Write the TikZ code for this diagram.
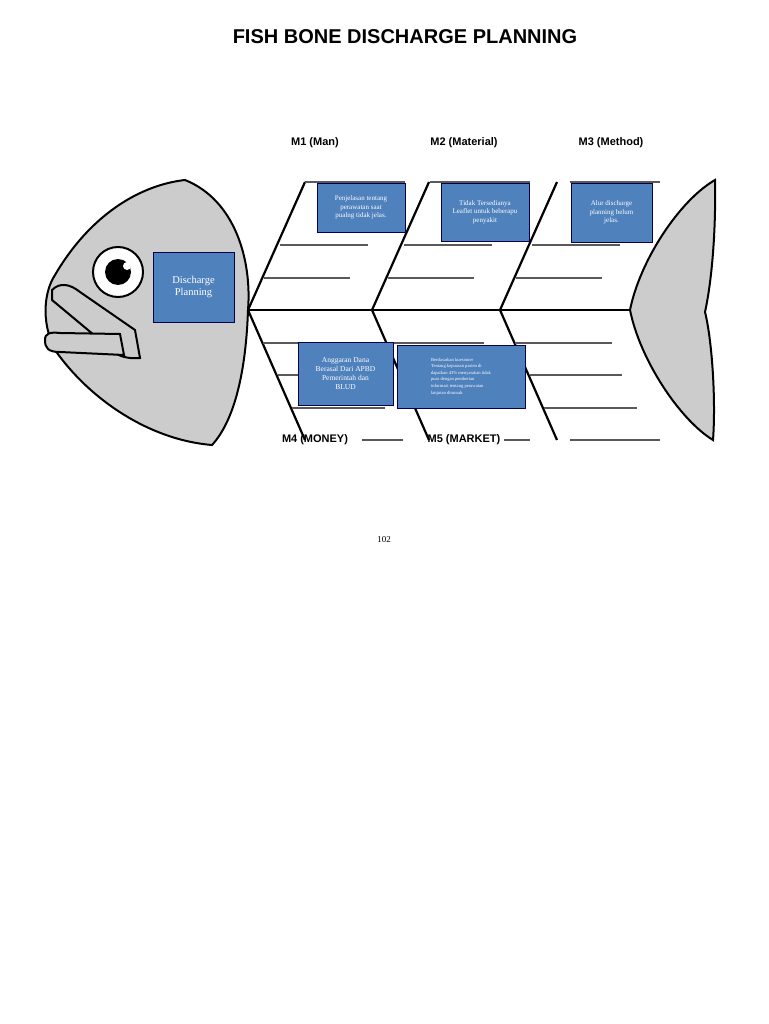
\documentclass[tikz,border=0pt]{standalone}
\usepackage{fontspec}
\setmainfont{Liberation Serif}
\newfontfamily\hv{Liberation Sans}
\begin{document}
\begin{tikzpicture}[x=1pt,y=-1pt,
  bone/.style={line width=2.2pt,black},
  rib/.style={line width=1.3pt,gray!70!black},
  fishpart/.style={draw=black,line width=2pt,fill=gray!40},
  bx/.style={draw=blue!30!black,fill={rgb,255:red,79;green,129;blue,189},text=white,inner sep=1pt,align=center,font=\fontsize{7}{8.5}\selectfont},
  lbl/.style={font=\hv\bfseries\fontsize{11}{13}\selectfont}]
\useasboundingbox (0,0) rectangle (768,1024);
\node[font=\hv\bfseries\fontsize{20}{24}\selectfont] (title) at (405,37) {FISH BONE DISCHARGE PLANNING};
% head
\draw[fishpart] (185,180) .. controls (235,200) and (252,260) .. (248,310) .. controls (246,370) and (235,420) .. (212,445)
 .. controls (150,440) and (90,400) .. (55,350) .. controls (40,320) and (45,290) .. (55,275) .. controls (90,215) and (140,185) .. (185,180) -- cycle;
% lips
\draw[fishpart] (52,290) .. controls (60,282) and (70,284) .. (80,292) -- (135,330) -- (140,358) .. controls (120,360) and (108,350) .. (100,340) -- (52,300) -- cycle;
\draw[fishpart] (45,340) .. controls (45,333) and (50,332) .. (60,333) -- (120,334) -- (124,355) -- (60,352) .. controls (48,352) and (45,348) .. (45,340) -- cycle;
% eye
\draw[line width=2pt,fill=white] (118,272) circle (25);
\fill[black] (118,272) circle (13);
\fill[white] (127,266) circle (4);
% tail
\draw[fishpart] (715,180) .. controls (680,200) and (640,260) .. (630,310) .. controls (640,360) and (680,420) .. (713,440)
 .. controls (716,400) and (712,340) .. (705,312) .. controls (712,280) and (716,230) .. (715,180) -- cycle;
% spine
\coordinate (sp0) at (248,310); \coordinate (spE) at (630,310);
\draw[bone] (sp0) -- (spE);
% bones
\foreach \x/\dx in {248/0,372/124,500/252}{
  \draw[bone] (\x,310) -- ++(57,-128);
  \draw[bone] (\x,310) -- ++(57,130);
}
\draw[rib] (305,182) -- (405,182); \draw[rib] (430,182) -- (530,182); \draw[rib] (570,182) -- (660,182);
\foreach \dx in {0,124,252}{
  \draw[rib] (280+\dx,245) -- (368+\dx,245);
  \draw[rib] (264+\dx,278) -- (350+\dx,278);
  \draw[rib] (263+\dx,343) -- (360+\dx,343);
  \draw[rib] (278+\dx,375) -- (370+\dx,375);
  \draw[rib] (292+\dx,408) -- (385+\dx,408);
}
\draw[rib] (570,440) -- (660,440);
% labels
\node[lbl] (m1) at (315,143) {M1 (Man)};
\node[lbl] (m2) at (464,143) {M2 (Material)};
\node[lbl] (m3) at (611,143) {M3 (Method)};
\node[lbl] (m4) at (315,440) {M4 (MONEY)};
\node[lbl] (m5) at (464,440) {M5 (MARKET)};
\draw[rib] (362,440) -- (403,440);
\draw[rib] (m5.east) -- (530,440);
% boxes
\node[bx,font=\fontsize{10.5}{12}\selectfont,minimum width=81,minimum height=70] (dp) at (193.5,287) {Discharge\\Planning};
\node[bx,minimum width=88,minimum height=49] (b1) at (361,207.5) {Penjelasan tentang\\perawatan saat\\pualng tidak jelas.};
\node[bx,minimum width=88,minimum height=58] (b2) at (485,212) {Tidak Tersedianya\\Leaflet untuk beberapu\\penyakit};
\node[bx,minimum width=81,minimum height=59] (b3) at (611.5,212.5) {Alur discharge\\planning belum\\jelas.};
\node[bx,font=\fontsize{7.5}{9}\selectfont,minimum width=95,minimum height=63] (b4) at (345.5,373.5) {Anggaran Dana\\Berasal Dari APBD\\Pemerintah dan\\BLUD};
\node[bx,font=\fontsize{4.6}{6.6}\selectfont,align=left,minimum width=128,minimum height=63] (b5) at (461,376.5) {Berdasarkan kuesioner\\Tentang kepuasan pasien di\\dapatkan 43\% menyatakan tidak\\puas dengan pemberian\\informasi tentang perawatan\\lanjutan dirumah.};
\node[font=\fontsize{9}{11}\selectfont] (pg) at (384,540) {102};
\end{tikzpicture}
\end{document}
